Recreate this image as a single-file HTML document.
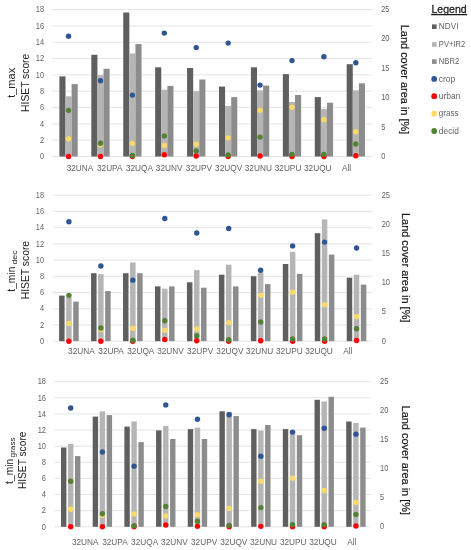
<!DOCTYPE html><html><head><meta charset="utf-8"><title>HISET score charts</title>
<style>html,body{margin:0;padding:0;background:#fff}svg{display:block}text{font-family:"Liberation Sans", sans-serif}</style></head><body>
<svg width="471" height="550" viewBox="0 0 471 550">
<rect width="471" height="550" fill="#fff"/>
<line x1="52.2" y1="156.50" x2="371.9" y2="156.50" stroke="#e4e4e4" stroke-width="1"/>
<text transform="translate(44.10 159.20) scale(0.810 1)" font-size="9.20" fill="#636363" text-anchor="end">0</text>
<line x1="52.2" y1="140.18" x2="371.9" y2="140.18" stroke="#e4e4e4" stroke-width="1"/>
<text transform="translate(44.10 142.88) scale(0.810 1)" font-size="9.20" fill="#636363" text-anchor="end">2</text>
<line x1="52.2" y1="123.86" x2="371.9" y2="123.86" stroke="#e4e4e4" stroke-width="1"/>
<text transform="translate(44.10 126.56) scale(0.810 1)" font-size="9.20" fill="#636363" text-anchor="end">4</text>
<line x1="52.2" y1="107.53" x2="371.9" y2="107.53" stroke="#e4e4e4" stroke-width="1"/>
<text transform="translate(44.10 110.23) scale(0.810 1)" font-size="9.20" fill="#636363" text-anchor="end">6</text>
<line x1="52.2" y1="91.21" x2="371.9" y2="91.21" stroke="#e4e4e4" stroke-width="1"/>
<text transform="translate(44.10 93.91) scale(0.810 1)" font-size="9.20" fill="#636363" text-anchor="end">8</text>
<line x1="52.2" y1="74.89" x2="371.9" y2="74.89" stroke="#e4e4e4" stroke-width="1"/>
<text transform="translate(44.10 77.59) scale(0.810 1)" font-size="9.20" fill="#636363" text-anchor="end">10</text>
<line x1="52.2" y1="58.57" x2="371.9" y2="58.57" stroke="#e4e4e4" stroke-width="1"/>
<text transform="translate(44.10 61.27) scale(0.810 1)" font-size="9.20" fill="#636363" text-anchor="end">12</text>
<line x1="52.2" y1="42.24" x2="371.9" y2="42.24" stroke="#e4e4e4" stroke-width="1"/>
<text transform="translate(44.10 44.94) scale(0.810 1)" font-size="9.20" fill="#636363" text-anchor="end">14</text>
<line x1="52.2" y1="25.92" x2="371.9" y2="25.92" stroke="#e4e4e4" stroke-width="1"/>
<text transform="translate(44.10 28.62) scale(0.810 1)" font-size="9.20" fill="#636363" text-anchor="end">16</text>
<line x1="52.2" y1="9.60" x2="371.9" y2="9.60" stroke="#e4e4e4" stroke-width="1"/>
<text transform="translate(44.10 12.30) scale(0.810 1)" font-size="9.20" fill="#636363" text-anchor="end">18</text>
<text transform="translate(381.20 158.90) scale(0.810 1)" font-size="9.20" fill="#636363" text-anchor="start">0</text>
<text transform="translate(381.20 129.52) scale(0.810 1)" font-size="9.20" fill="#636363" text-anchor="start">5</text>
<text transform="translate(381.20 100.14) scale(0.810 1)" font-size="9.20" fill="#636363" text-anchor="start">10</text>
<text transform="translate(381.20 70.76) scale(0.810 1)" font-size="9.20" fill="#636363" text-anchor="start">15</text>
<text transform="translate(381.20 41.38) scale(0.810 1)" font-size="9.20" fill="#636363" text-anchor="start">20</text>
<text transform="translate(381.20 12.00) scale(0.810 1)" font-size="9.20" fill="#636363" text-anchor="start">25</text>
<rect x="59.40" y="76.40" width="6.10" height="80.10" fill="#5f5f5f"/>
<rect x="65.50" y="96.30" width="6.10" height="60.20" fill="#b5b5b5"/>
<rect x="71.60" y="84.10" width="6.10" height="72.40" fill="#8c8c8c"/>
<rect x="91.32" y="54.80" width="6.10" height="101.70" fill="#5f5f5f"/>
<rect x="97.42" y="75.20" width="6.10" height="81.30" fill="#b5b5b5"/>
<rect x="103.52" y="68.80" width="6.10" height="87.70" fill="#8c8c8c"/>
<rect x="123.24" y="12.50" width="6.10" height="144.00" fill="#5f5f5f"/>
<rect x="129.34" y="53.50" width="6.10" height="103.00" fill="#b5b5b5"/>
<rect x="135.44" y="44.10" width="6.10" height="112.40" fill="#8c8c8c"/>
<rect x="155.16" y="67.30" width="6.10" height="89.20" fill="#5f5f5f"/>
<rect x="161.26" y="89.70" width="6.10" height="66.80" fill="#b5b5b5"/>
<rect x="167.36" y="85.90" width="6.10" height="70.60" fill="#8c8c8c"/>
<rect x="187.08" y="68.00" width="6.10" height="88.50" fill="#5f5f5f"/>
<rect x="193.18" y="91.20" width="6.10" height="65.30" fill="#b5b5b5"/>
<rect x="199.28" y="79.50" width="6.10" height="77.00" fill="#8c8c8c"/>
<rect x="219.00" y="86.60" width="6.10" height="69.90" fill="#5f5f5f"/>
<rect x="225.10" y="106.00" width="6.10" height="50.50" fill="#b5b5b5"/>
<rect x="231.20" y="97.10" width="6.10" height="59.40" fill="#8c8c8c"/>
<rect x="250.92" y="67.30" width="6.10" height="89.20" fill="#5f5f5f"/>
<rect x="257.02" y="90.40" width="6.10" height="66.10" fill="#b5b5b5"/>
<rect x="263.12" y="85.60" width="6.10" height="70.90" fill="#8c8c8c"/>
<rect x="282.84" y="74.10" width="6.10" height="82.40" fill="#5f5f5f"/>
<rect x="288.94" y="101.90" width="6.10" height="54.60" fill="#b5b5b5"/>
<rect x="295.04" y="95.00" width="6.10" height="61.50" fill="#8c8c8c"/>
<rect x="314.76" y="97.10" width="6.10" height="59.40" fill="#5f5f5f"/>
<rect x="320.86" y="109.00" width="6.10" height="47.50" fill="#b5b5b5"/>
<rect x="326.96" y="102.70" width="6.10" height="53.80" fill="#8c8c8c"/>
<rect x="346.68" y="64.20" width="6.10" height="92.30" fill="#5f5f5f"/>
<rect x="352.78" y="90.40" width="6.10" height="66.10" fill="#b5b5b5"/>
<rect x="358.88" y="83.30" width="6.10" height="73.20" fill="#8c8c8c"/>
<circle cx="68.55" cy="36.28" r="2.7" fill="#2f5597"/>
<circle cx="100.47" cy="80.82" r="2.7" fill="#2f5597"/>
<circle cx="132.39" cy="95.10" r="2.7" fill="#2f5597"/>
<circle cx="164.31" cy="33.10" r="2.7" fill="#2f5597"/>
<circle cx="196.23" cy="47.62" r="2.7" fill="#2f5597"/>
<circle cx="228.15" cy="43.09" r="2.7" fill="#2f5597"/>
<circle cx="260.07" cy="85.11" r="2.7" fill="#2f5597"/>
<circle cx="291.99" cy="60.60" r="2.7" fill="#2f5597"/>
<circle cx="323.91" cy="56.78" r="2.7" fill="#2f5597"/>
<circle cx="355.83" cy="62.72" r="2.7" fill="#2f5597"/>
<circle cx="68.55" cy="156.50" r="2.7" fill="#ff0000"/>
<circle cx="100.47" cy="156.50" r="2.7" fill="#ff0000"/>
<circle cx="132.39" cy="156.50" r="2.7" fill="#ff0000"/>
<circle cx="164.31" cy="154.74" r="2.7" fill="#ff0000"/>
<circle cx="196.23" cy="156.03" r="2.7" fill="#ff0000"/>
<circle cx="228.15" cy="156.50" r="2.7" fill="#ff0000"/>
<circle cx="260.07" cy="156.03" r="2.7" fill="#ff0000"/>
<circle cx="291.99" cy="156.50" r="2.7" fill="#ff0000"/>
<circle cx="323.91" cy="156.50" r="2.7" fill="#ff0000"/>
<circle cx="355.83" cy="155.74" r="2.7" fill="#ff0000"/>
<circle cx="68.55" cy="138.70" r="2.7" fill="#ffd966"/>
<circle cx="100.47" cy="144.75" r="2.7" fill="#ffd966"/>
<circle cx="132.39" cy="143.51" r="2.7" fill="#ffd966"/>
<circle cx="164.31" cy="145.51" r="2.7" fill="#ffd966"/>
<circle cx="196.23" cy="144.28" r="2.7" fill="#ffd966"/>
<circle cx="228.15" cy="137.87" r="2.7" fill="#ffd966"/>
<circle cx="260.07" cy="110.37" r="2.7" fill="#ffd966"/>
<circle cx="291.99" cy="107.32" r="2.7" fill="#ffd966"/>
<circle cx="323.91" cy="119.78" r="2.7" fill="#ffd966"/>
<circle cx="355.83" cy="131.82" r="2.7" fill="#ffd966"/>
<circle cx="68.55" cy="110.37" r="2.7" fill="#548235"/>
<circle cx="100.47" cy="143.22" r="2.7" fill="#548235"/>
<circle cx="132.39" cy="155.50" r="2.7" fill="#548235"/>
<circle cx="164.31" cy="135.93" r="2.7" fill="#548235"/>
<circle cx="196.23" cy="150.92" r="2.7" fill="#548235"/>
<circle cx="228.15" cy="155.03" r="2.7" fill="#548235"/>
<circle cx="260.07" cy="137.11" r="2.7" fill="#548235"/>
<circle cx="291.99" cy="154.33" r="2.7" fill="#548235"/>
<circle cx="323.91" cy="154.33" r="2.7" fill="#548235"/>
<circle cx="355.83" cy="143.98" r="2.7" fill="#548235"/>
<text transform="translate(80.00 170.85) scale(0.920 1)" font-size="9.00" fill="#636363" text-anchor="middle">32UNA</text>
<text transform="translate(109.72 170.85) scale(0.920 1)" font-size="9.00" fill="#636363" text-anchor="middle">32UPA</text>
<text transform="translate(139.44 170.85) scale(0.920 1)" font-size="9.00" fill="#636363" text-anchor="middle">32UQA</text>
<text transform="translate(169.16 170.85) scale(0.920 1)" font-size="9.00" fill="#636363" text-anchor="middle">32UNV</text>
<text transform="translate(198.88 170.85) scale(0.920 1)" font-size="9.00" fill="#636363" text-anchor="middle">32UPV</text>
<text transform="translate(228.60 170.85) scale(0.920 1)" font-size="9.00" fill="#636363" text-anchor="middle">32UQV</text>
<text transform="translate(258.32 170.85) scale(0.920 1)" font-size="9.00" fill="#636363" text-anchor="middle">32UNU</text>
<text transform="translate(288.04 170.85) scale(0.920 1)" font-size="9.00" fill="#636363" text-anchor="middle">32UPU</text>
<text transform="translate(317.76 170.85) scale(0.920 1)" font-size="9.00" fill="#636363" text-anchor="middle">32UQU</text>
<text transform="translate(346.58 170.85) scale(0.920 1)" font-size="9.00" fill="#636363" text-anchor="middle">All</text>
<text transform="translate(14.70 97.80) rotate(-90) scale(1.100 1)" font-size="10.00" fill="#222">t_max</text>
<text transform="translate(29.00 111.90) rotate(-90) scale(1.000 1)" font-size="10.30" fill="#222">HISET score</text>
<text transform="translate(401.2 79.5) rotate(90)" font-size="10.95" fill="#1a1a1a" stroke="#1a1a1a" stroke-width="0.2" text-anchor="middle">Land cover area in [%]</text>
<line x1="52.6" y1="341.20" x2="371.9" y2="341.20" stroke="#e4e4e4" stroke-width="1"/>
<text transform="translate(44.10 343.90) scale(0.810 1)" font-size="9.20" fill="#636363" text-anchor="end">0</text>
<line x1="52.6" y1="324.98" x2="371.9" y2="324.98" stroke="#e4e4e4" stroke-width="1"/>
<text transform="translate(44.10 327.68) scale(0.810 1)" font-size="9.20" fill="#636363" text-anchor="end">2</text>
<line x1="52.6" y1="308.76" x2="371.9" y2="308.76" stroke="#e4e4e4" stroke-width="1"/>
<text transform="translate(44.10 311.46) scale(0.810 1)" font-size="9.20" fill="#636363" text-anchor="end">4</text>
<line x1="52.6" y1="292.53" x2="371.9" y2="292.53" stroke="#e4e4e4" stroke-width="1"/>
<text transform="translate(44.10 295.23) scale(0.810 1)" font-size="9.20" fill="#636363" text-anchor="end">6</text>
<line x1="52.6" y1="276.31" x2="371.9" y2="276.31" stroke="#e4e4e4" stroke-width="1"/>
<text transform="translate(44.10 279.01) scale(0.810 1)" font-size="9.20" fill="#636363" text-anchor="end">8</text>
<line x1="52.6" y1="260.09" x2="371.9" y2="260.09" stroke="#e4e4e4" stroke-width="1"/>
<text transform="translate(44.10 262.79) scale(0.810 1)" font-size="9.20" fill="#636363" text-anchor="end">10</text>
<line x1="52.6" y1="243.87" x2="371.9" y2="243.87" stroke="#e4e4e4" stroke-width="1"/>
<text transform="translate(44.10 246.57) scale(0.810 1)" font-size="9.20" fill="#636363" text-anchor="end">12</text>
<line x1="52.6" y1="227.64" x2="371.9" y2="227.64" stroke="#e4e4e4" stroke-width="1"/>
<text transform="translate(44.10 230.34) scale(0.810 1)" font-size="9.20" fill="#636363" text-anchor="end">14</text>
<line x1="52.6" y1="211.42" x2="371.9" y2="211.42" stroke="#e4e4e4" stroke-width="1"/>
<text transform="translate(44.10 214.12) scale(0.810 1)" font-size="9.20" fill="#636363" text-anchor="end">16</text>
<line x1="52.6" y1="195.20" x2="371.9" y2="195.20" stroke="#e4e4e4" stroke-width="1"/>
<text transform="translate(44.10 197.90) scale(0.810 1)" font-size="9.20" fill="#636363" text-anchor="end">18</text>
<text transform="translate(381.70 343.60) scale(0.810 1)" font-size="9.20" fill="#636363" text-anchor="start">0</text>
<text transform="translate(381.70 314.40) scale(0.810 1)" font-size="9.20" fill="#636363" text-anchor="start">5</text>
<text transform="translate(381.70 285.20) scale(0.810 1)" font-size="9.20" fill="#636363" text-anchor="start">10</text>
<text transform="translate(381.70 256.00) scale(0.810 1)" font-size="9.20" fill="#636363" text-anchor="start">15</text>
<text transform="translate(381.70 226.80) scale(0.810 1)" font-size="9.20" fill="#636363" text-anchor="start">20</text>
<text transform="translate(381.70 197.60) scale(0.810 1)" font-size="9.20" fill="#636363" text-anchor="start">25</text>
<rect x="59.10" y="295.60" width="5.50" height="45.60" fill="#5f5f5f"/>
<rect x="66.15" y="297.10" width="5.50" height="44.10" fill="#b5b5b5"/>
<rect x="73.20" y="301.70" width="5.50" height="39.50" fill="#8c8c8c"/>
<rect x="91.06" y="273.20" width="5.50" height="68.00" fill="#5f5f5f"/>
<rect x="98.11" y="274.20" width="5.50" height="67.00" fill="#b5b5b5"/>
<rect x="105.16" y="291.00" width="5.50" height="50.20" fill="#8c8c8c"/>
<rect x="123.02" y="273.20" width="5.50" height="68.00" fill="#5f5f5f"/>
<rect x="130.07" y="262.50" width="5.50" height="78.70" fill="#b5b5b5"/>
<rect x="137.12" y="273.20" width="5.50" height="68.00" fill="#8c8c8c"/>
<rect x="154.98" y="286.40" width="5.50" height="54.80" fill="#5f5f5f"/>
<rect x="162.03" y="288.70" width="5.50" height="52.50" fill="#b5b5b5"/>
<rect x="169.08" y="286.40" width="5.50" height="54.80" fill="#8c8c8c"/>
<rect x="186.94" y="282.30" width="5.50" height="58.90" fill="#5f5f5f"/>
<rect x="193.99" y="270.10" width="5.50" height="71.10" fill="#b5b5b5"/>
<rect x="201.04" y="287.70" width="5.50" height="53.50" fill="#8c8c8c"/>
<rect x="218.90" y="274.70" width="5.50" height="66.50" fill="#5f5f5f"/>
<rect x="225.95" y="264.70" width="5.50" height="76.50" fill="#b5b5b5"/>
<rect x="233.00" y="286.40" width="5.50" height="54.80" fill="#8c8c8c"/>
<rect x="250.86" y="276.20" width="5.50" height="65.00" fill="#5f5f5f"/>
<rect x="257.91" y="272.40" width="5.50" height="68.80" fill="#b5b5b5"/>
<rect x="264.96" y="284.10" width="5.50" height="57.10" fill="#8c8c8c"/>
<rect x="282.82" y="264.00" width="5.50" height="77.20" fill="#5f5f5f"/>
<rect x="289.87" y="251.80" width="5.50" height="89.40" fill="#b5b5b5"/>
<rect x="296.92" y="273.90" width="5.50" height="67.30" fill="#8c8c8c"/>
<rect x="314.78" y="233.20" width="5.50" height="108.00" fill="#5f5f5f"/>
<rect x="321.83" y="219.40" width="5.50" height="121.80" fill="#b5b5b5"/>
<rect x="328.88" y="254.60" width="5.50" height="86.60" fill="#8c8c8c"/>
<rect x="346.74" y="277.70" width="5.50" height="63.50" fill="#5f5f5f"/>
<rect x="353.79" y="274.70" width="5.50" height="66.50" fill="#b5b5b5"/>
<rect x="360.84" y="284.60" width="5.50" height="56.60" fill="#8c8c8c"/>
<circle cx="68.90" cy="221.71" r="2.7" fill="#2f5597"/>
<circle cx="100.86" cy="265.98" r="2.7" fill="#2f5597"/>
<circle cx="132.82" cy="280.17" r="2.7" fill="#2f5597"/>
<circle cx="164.78" cy="218.56" r="2.7" fill="#2f5597"/>
<circle cx="196.74" cy="232.98" r="2.7" fill="#2f5597"/>
<circle cx="228.70" cy="228.49" r="2.7" fill="#2f5597"/>
<circle cx="260.66" cy="270.24" r="2.7" fill="#2f5597"/>
<circle cx="292.62" cy="245.89" r="2.7" fill="#2f5597"/>
<circle cx="324.58" cy="242.10" r="2.7" fill="#2f5597"/>
<circle cx="356.54" cy="247.99" r="2.7" fill="#2f5597"/>
<circle cx="68.90" cy="341.20" r="2.7" fill="#ff0000"/>
<circle cx="100.86" cy="341.20" r="2.7" fill="#ff0000"/>
<circle cx="132.82" cy="341.20" r="2.7" fill="#ff0000"/>
<circle cx="164.78" cy="339.45" r="2.7" fill="#ff0000"/>
<circle cx="196.74" cy="340.73" r="2.7" fill="#ff0000"/>
<circle cx="228.70" cy="341.20" r="2.7" fill="#ff0000"/>
<circle cx="260.66" cy="340.73" r="2.7" fill="#ff0000"/>
<circle cx="292.62" cy="341.20" r="2.7" fill="#ff0000"/>
<circle cx="324.58" cy="341.20" r="2.7" fill="#ff0000"/>
<circle cx="356.54" cy="340.44" r="2.7" fill="#ff0000"/>
<circle cx="68.90" cy="323.50" r="2.7" fill="#ffd966"/>
<circle cx="100.86" cy="329.52" r="2.7" fill="#ffd966"/>
<circle cx="132.82" cy="328.29" r="2.7" fill="#ffd966"/>
<circle cx="164.78" cy="330.28" r="2.7" fill="#ffd966"/>
<circle cx="196.74" cy="329.05" r="2.7" fill="#ffd966"/>
<circle cx="228.70" cy="322.69" r="2.7" fill="#ffd966"/>
<circle cx="260.66" cy="295.36" r="2.7" fill="#ffd966"/>
<circle cx="292.62" cy="292.32" r="2.7" fill="#ffd966"/>
<circle cx="324.58" cy="304.70" r="2.7" fill="#ffd966"/>
<circle cx="356.54" cy="316.67" r="2.7" fill="#ffd966"/>
<circle cx="68.90" cy="295.36" r="2.7" fill="#548235"/>
<circle cx="100.86" cy="328.00" r="2.7" fill="#548235"/>
<circle cx="132.82" cy="340.21" r="2.7" fill="#548235"/>
<circle cx="164.78" cy="320.76" r="2.7" fill="#548235"/>
<circle cx="196.74" cy="335.65" r="2.7" fill="#548235"/>
<circle cx="228.70" cy="339.74" r="2.7" fill="#548235"/>
<circle cx="260.66" cy="321.93" r="2.7" fill="#548235"/>
<circle cx="292.62" cy="339.04" r="2.7" fill="#548235"/>
<circle cx="324.58" cy="339.04" r="2.7" fill="#548235"/>
<circle cx="356.54" cy="328.76" r="2.7" fill="#548235"/>
<text transform="translate(81.40 353.85) scale(0.920 1)" font-size="9.00" fill="#636363" text-anchor="middle">32UNA</text>
<text transform="translate(111.10 353.85) scale(0.920 1)" font-size="9.00" fill="#636363" text-anchor="middle">32UPA</text>
<text transform="translate(140.80 353.85) scale(0.920 1)" font-size="9.00" fill="#636363" text-anchor="middle">32UQA</text>
<text transform="translate(170.50 353.85) scale(0.920 1)" font-size="9.00" fill="#636363" text-anchor="middle">32UNV</text>
<text transform="translate(200.20 353.85) scale(0.920 1)" font-size="9.00" fill="#636363" text-anchor="middle">32UPV</text>
<text transform="translate(229.90 353.85) scale(0.920 1)" font-size="9.00" fill="#636363" text-anchor="middle">32UQV</text>
<text transform="translate(259.60 353.85) scale(0.920 1)" font-size="9.00" fill="#636363" text-anchor="middle">32UNU</text>
<text transform="translate(289.30 353.85) scale(0.920 1)" font-size="9.00" fill="#636363" text-anchor="middle">32UPU</text>
<text transform="translate(319.00 353.85) scale(0.920 1)" font-size="9.00" fill="#636363" text-anchor="middle">32UQU</text>
<text transform="translate(347.80 353.85) scale(0.920 1)" font-size="9.00" fill="#636363" text-anchor="middle">All</text>
<text transform="translate(15.30 291.70) rotate(-90) scale(1.000 1)" font-size="10.25" fill="#222">t_min</text>
<text transform="translate(17.00 264.60) rotate(-90) scale(1.280 1)" font-size="7.00" fill="#222">dec</text>
<text transform="translate(29.10 299.30) rotate(-90) scale(1.005 1)" font-size="10.30" fill="#222">HISET score</text>
<text transform="translate(401.5 267.7) rotate(90)" font-size="10.95" fill="#1a1a1a" stroke="#1a1a1a" stroke-width="0.2" text-anchor="middle">Land cover area in [%]</text>
<line x1="54.6" y1="526.80" x2="371.4" y2="526.80" stroke="#e4e4e4" stroke-width="1"/>
<text transform="translate(46.00 529.50) scale(0.810 1)" font-size="9.20" fill="#636363" text-anchor="end">0</text>
<line x1="54.6" y1="510.68" x2="371.4" y2="510.68" stroke="#e4e4e4" stroke-width="1"/>
<text transform="translate(46.00 513.38) scale(0.810 1)" font-size="9.20" fill="#636363" text-anchor="end">2</text>
<line x1="54.6" y1="494.56" x2="371.4" y2="494.56" stroke="#e4e4e4" stroke-width="1"/>
<text transform="translate(46.00 497.26) scale(0.810 1)" font-size="9.20" fill="#636363" text-anchor="end">4</text>
<line x1="54.6" y1="478.43" x2="371.4" y2="478.43" stroke="#e4e4e4" stroke-width="1"/>
<text transform="translate(46.00 481.13) scale(0.810 1)" font-size="9.20" fill="#636363" text-anchor="end">6</text>
<line x1="54.6" y1="462.31" x2="371.4" y2="462.31" stroke="#e4e4e4" stroke-width="1"/>
<text transform="translate(46.00 465.01) scale(0.810 1)" font-size="9.20" fill="#636363" text-anchor="end">8</text>
<line x1="54.6" y1="446.19" x2="371.4" y2="446.19" stroke="#e4e4e4" stroke-width="1"/>
<text transform="translate(46.00 448.89) scale(0.810 1)" font-size="9.20" fill="#636363" text-anchor="end">10</text>
<line x1="54.6" y1="430.07" x2="371.4" y2="430.07" stroke="#e4e4e4" stroke-width="1"/>
<text transform="translate(46.00 432.77) scale(0.810 1)" font-size="9.20" fill="#636363" text-anchor="end">12</text>
<line x1="54.6" y1="413.94" x2="371.4" y2="413.94" stroke="#e4e4e4" stroke-width="1"/>
<text transform="translate(46.00 416.64) scale(0.810 1)" font-size="9.20" fill="#636363" text-anchor="end">14</text>
<line x1="54.6" y1="397.82" x2="371.4" y2="397.82" stroke="#e4e4e4" stroke-width="1"/>
<text transform="translate(46.00 400.52) scale(0.810 1)" font-size="9.20" fill="#636363" text-anchor="end">16</text>
<line x1="54.6" y1="381.70" x2="371.4" y2="381.70" stroke="#e4e4e4" stroke-width="1"/>
<text transform="translate(46.00 384.40) scale(0.810 1)" font-size="9.20" fill="#636363" text-anchor="end">18</text>
<text transform="translate(380.00 529.20) scale(0.810 1)" font-size="9.20" fill="#636363" text-anchor="start">0</text>
<text transform="translate(380.00 500.18) scale(0.810 1)" font-size="9.20" fill="#636363" text-anchor="start">5</text>
<text transform="translate(380.00 471.16) scale(0.810 1)" font-size="9.20" fill="#636363" text-anchor="start">10</text>
<text transform="translate(380.00 442.14) scale(0.810 1)" font-size="9.20" fill="#636363" text-anchor="start">15</text>
<text transform="translate(380.00 413.12) scale(0.810 1)" font-size="9.20" fill="#636363" text-anchor="start">20</text>
<text transform="translate(380.00 384.10) scale(0.810 1)" font-size="9.20" fill="#636363" text-anchor="start">25</text>
<rect x="61.00" y="447.50" width="5.40" height="79.30" fill="#5f5f5f"/>
<rect x="68.00" y="443.90" width="5.40" height="82.90" fill="#b5b5b5"/>
<rect x="75.00" y="456.10" width="5.40" height="70.70" fill="#8c8c8c"/>
<rect x="92.69" y="416.60" width="5.40" height="110.20" fill="#5f5f5f"/>
<rect x="99.69" y="411.30" width="5.40" height="115.50" fill="#b5b5b5"/>
<rect x="106.69" y="415.10" width="5.40" height="111.70" fill="#8c8c8c"/>
<rect x="124.38" y="426.60" width="5.40" height="100.20" fill="#5f5f5f"/>
<rect x="131.38" y="421.50" width="5.40" height="105.30" fill="#b5b5b5"/>
<rect x="138.38" y="442.10" width="5.40" height="84.70" fill="#8c8c8c"/>
<rect x="156.07" y="430.40" width="5.40" height="96.40" fill="#5f5f5f"/>
<rect x="163.07" y="426.10" width="5.40" height="100.70" fill="#b5b5b5"/>
<rect x="170.07" y="439.00" width="5.40" height="87.80" fill="#8c8c8c"/>
<rect x="187.76" y="429.10" width="5.40" height="97.70" fill="#5f5f5f"/>
<rect x="194.76" y="427.60" width="5.40" height="99.20" fill="#b5b5b5"/>
<rect x="201.76" y="439.00" width="5.40" height="87.80" fill="#8c8c8c"/>
<rect x="219.45" y="411.30" width="5.40" height="115.50" fill="#5f5f5f"/>
<rect x="226.45" y="411.80" width="5.40" height="115.00" fill="#b5b5b5"/>
<rect x="233.45" y="416.10" width="5.40" height="110.70" fill="#8c8c8c"/>
<rect x="251.14" y="429.10" width="5.40" height="97.70" fill="#5f5f5f"/>
<rect x="258.14" y="430.60" width="5.40" height="96.20" fill="#b5b5b5"/>
<rect x="265.14" y="425.00" width="5.40" height="101.80" fill="#8c8c8c"/>
<rect x="282.83" y="429.10" width="5.40" height="97.70" fill="#5f5f5f"/>
<rect x="289.83" y="430.60" width="5.40" height="96.20" fill="#b5b5b5"/>
<rect x="296.83" y="435.20" width="5.40" height="91.60" fill="#8c8c8c"/>
<rect x="314.52" y="399.80" width="5.40" height="127.00" fill="#5f5f5f"/>
<rect x="321.52" y="401.60" width="5.40" height="125.20" fill="#b5b5b5"/>
<rect x="328.52" y="396.80" width="5.40" height="130.00" fill="#8c8c8c"/>
<rect x="346.21" y="421.50" width="5.40" height="105.30" fill="#5f5f5f"/>
<rect x="353.21" y="423.00" width="5.40" height="103.80" fill="#b5b5b5"/>
<rect x="360.21" y="427.60" width="5.40" height="99.20" fill="#8c8c8c"/>
<circle cx="70.70" cy="408.05" r="2.7" fill="#2f5597"/>
<circle cx="102.39" cy="452.04" r="2.7" fill="#2f5597"/>
<circle cx="134.08" cy="466.15" r="2.7" fill="#2f5597"/>
<circle cx="165.77" cy="404.92" r="2.7" fill="#2f5597"/>
<circle cx="197.46" cy="419.25" r="2.7" fill="#2f5597"/>
<circle cx="229.15" cy="414.78" r="2.7" fill="#2f5597"/>
<circle cx="260.84" cy="456.28" r="2.7" fill="#2f5597"/>
<circle cx="292.53" cy="432.08" r="2.7" fill="#2f5597"/>
<circle cx="324.22" cy="428.31" r="2.7" fill="#2f5597"/>
<circle cx="355.91" cy="434.17" r="2.7" fill="#2f5597"/>
<circle cx="70.70" cy="526.80" r="2.7" fill="#ff0000"/>
<circle cx="102.39" cy="526.80" r="2.7" fill="#ff0000"/>
<circle cx="134.08" cy="526.80" r="2.7" fill="#ff0000"/>
<circle cx="165.77" cy="525.06" r="2.7" fill="#ff0000"/>
<circle cx="197.46" cy="526.34" r="2.7" fill="#ff0000"/>
<circle cx="229.15" cy="526.80" r="2.7" fill="#ff0000"/>
<circle cx="260.84" cy="526.34" r="2.7" fill="#ff0000"/>
<circle cx="292.53" cy="526.80" r="2.7" fill="#ff0000"/>
<circle cx="324.22" cy="526.80" r="2.7" fill="#ff0000"/>
<circle cx="355.91" cy="526.05" r="2.7" fill="#ff0000"/>
<circle cx="70.70" cy="509.21" r="2.7" fill="#ffd966"/>
<circle cx="102.39" cy="515.19" r="2.7" fill="#ffd966"/>
<circle cx="134.08" cy="513.97" r="2.7" fill="#ffd966"/>
<circle cx="165.77" cy="515.95" r="2.7" fill="#ffd966"/>
<circle cx="197.46" cy="514.73" r="2.7" fill="#ffd966"/>
<circle cx="229.15" cy="508.40" r="2.7" fill="#ffd966"/>
<circle cx="260.84" cy="481.24" r="2.7" fill="#ffd966"/>
<circle cx="292.53" cy="478.22" r="2.7" fill="#ffd966"/>
<circle cx="324.22" cy="490.52" r="2.7" fill="#ffd966"/>
<circle cx="355.91" cy="502.42" r="2.7" fill="#ffd966"/>
<circle cx="70.70" cy="481.24" r="2.7" fill="#548235"/>
<circle cx="102.39" cy="513.68" r="2.7" fill="#548235"/>
<circle cx="134.08" cy="525.81" r="2.7" fill="#548235"/>
<circle cx="165.77" cy="506.49" r="2.7" fill="#548235"/>
<circle cx="197.46" cy="521.29" r="2.7" fill="#548235"/>
<circle cx="229.15" cy="525.35" r="2.7" fill="#548235"/>
<circle cx="260.84" cy="507.65" r="2.7" fill="#548235"/>
<circle cx="292.53" cy="524.65" r="2.7" fill="#548235"/>
<circle cx="324.22" cy="524.65" r="2.7" fill="#548235"/>
<circle cx="355.91" cy="514.44" r="2.7" fill="#548235"/>
<text transform="translate(85.20 544.85) scale(0.920 1)" font-size="9.00" fill="#636363" text-anchor="middle">32UNA</text>
<text transform="translate(114.92 544.85) scale(0.920 1)" font-size="9.00" fill="#636363" text-anchor="middle">32UPA</text>
<text transform="translate(144.64 544.85) scale(0.920 1)" font-size="9.00" fill="#636363" text-anchor="middle">32UQA</text>
<text transform="translate(174.36 544.85) scale(0.920 1)" font-size="9.00" fill="#636363" text-anchor="middle">32UNV</text>
<text transform="translate(204.08 544.85) scale(0.920 1)" font-size="9.00" fill="#636363" text-anchor="middle">32UPV</text>
<text transform="translate(233.80 544.85) scale(0.920 1)" font-size="9.00" fill="#636363" text-anchor="middle">32UQV</text>
<text transform="translate(263.52 544.85) scale(0.920 1)" font-size="9.00" fill="#636363" text-anchor="middle">32UNU</text>
<text transform="translate(293.24 544.85) scale(0.920 1)" font-size="9.00" fill="#636363" text-anchor="middle">32UPU</text>
<text transform="translate(322.96 544.85) scale(0.920 1)" font-size="9.00" fill="#636363" text-anchor="middle">32UQU</text>
<text transform="translate(351.78 544.85) scale(0.920 1)" font-size="9.00" fill="#636363" text-anchor="middle">All</text>
<text transform="translate(12.70 483.90) rotate(-90) scale(1.000 1)" font-size="10.25" fill="#222">t_min</text>
<text transform="translate(14.80 457.40) rotate(-90) scale(1.170 1)" font-size="7.00" fill="#222">grass</text>
<text transform="translate(26.30 489.10) rotate(-90) scale(0.990 1)" font-size="10.30" fill="#222">HISET score</text>
<text transform="translate(402.2 460.3) rotate(90)" font-size="10.95" fill="#1a1a1a" stroke="#1a1a1a" stroke-width="0.2" text-anchor="middle">Land cover area in [%]</text>
<text transform="translate(431.40 12.70) scale(0.920 1)" font-size="11.50" fill="#1a1a1a" text-anchor="start" stroke="#1a1a1a" stroke-width="0.3">Legend</text>
<line x1="431.2" y1="14.6" x2="467.2" y2="14.6" stroke="#1a1a1a" stroke-width="1.1"/>
<rect x="432" y="24.40" width="4.6" height="4.6" fill="#5f5f5f"/>
<text transform="translate(438.80 29.45) scale(0.915 1)" font-size="9.00" fill="#636363" text-anchor="start">NDVI</text>
<rect x="432" y="42.20" width="4.6" height="4.6" fill="#b5b5b5"/>
<text transform="translate(438.80 47.25) scale(0.850 1)" font-size="9.00" fill="#636363" text-anchor="start">PV+IR2</text>
<rect x="432" y="59.30" width="4.6" height="4.6" fill="#8c8c8c"/>
<text transform="translate(438.80 64.35) scale(0.850 1)" font-size="9.00" fill="#636363" text-anchor="start">NBR2</text>
<circle cx="434.2" cy="78.90" r="2.9" fill="#2f5597"/>
<text transform="translate(438.80 81.65) scale(0.935 1)" font-size="9.00" fill="#636363" text-anchor="start">crop</text>
<circle cx="434.2" cy="96.20" r="2.9" fill="#ff0000"/>
<text transform="translate(438.80 98.95) scale(0.945 1)" font-size="9.00" fill="#636363" text-anchor="start">urban</text>
<circle cx="434.2" cy="113.70" r="2.9" fill="#ffd966"/>
<text transform="translate(438.80 116.45) scale(0.900 1)" font-size="9.00" fill="#636363" text-anchor="start">grass</text>
<circle cx="434.2" cy="131.00" r="2.9" fill="#548235"/>
<text transform="translate(438.80 133.75) scale(0.935 1)" font-size="9.00" fill="#636363" text-anchor="start">decid</text>
</svg></body></html>
